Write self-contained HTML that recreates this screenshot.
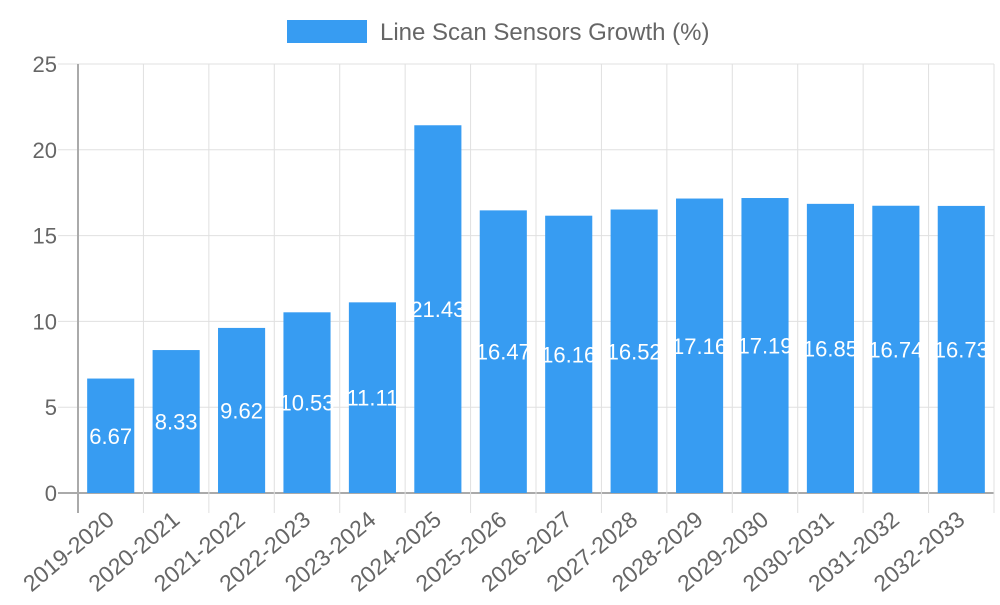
<!DOCTYPE html>
<html><head><meta charset="utf-8"><style>
body{margin:0;background:#fff;}
svg text{font-family:"Liberation Sans",sans-serif;}
</style></head><body>
<svg id="c" width="1000" height="600" xmlns="http://www.w3.org/2000/svg">
<g>
<rect x="287" y="20" width="80" height="23" fill="#379cf2"/>
<text x="380" y="40" font-size="24" fill="#666">Line Scan Sensors Growth (%)</text>
</g>
<g id="grid"></g><g id="bars"></g><g id="labels"></g>
</svg>
<script>
const categories=["2019-2020","2020-2021","2021-2022","2022-2023","2023-2024","2024-2025","2025-2026","2026-2027","2027-2028","2028-2029","2029-2030","2030-2031","2031-2032","2032-2033"];
const values=[6.67,8.33,9.62,10.53,11.11,21.43,16.47,16.16,16.52,17.16,17.19,16.85,16.74,16.73];
const yTicks=[0,5,10,15,20,25];
const NS="http://www.w3.org/2000/svg";
const L=78,R=994,T=64,B=493,yMax=25;
const bw=(R-L)/categories.length;
const y=v=>B-(v/yMax)*(B-T);
const x=i=>L+bw*i+bw/2;
function mk(tag,attrs,parent){const e=document.createElementNS(NS,tag);for(const k in attrs)e.setAttribute(k,attrs[k]);document.getElementById(parent).appendChild(e);return e;}
yTicks.forEach(t=>{
 const l=mk('line',{x1:58,x2:R,y1:y(t),y2:y(t),stroke:t===0?'#aaa':'#e0e0e0','stroke-width':t===0?2:1},'grid');
 
 
 const tx=mk('text',{x:57,y:y(t)+8,'text-anchor':'end','font-size':22,fill:'#666'},'grid');
 tx.textContent=t;
 
 
});
for(let i=0;i<=categories.length;i++){
 const gx=L+bw*i;
 const l=mk('line',{x1:gx,x2:gx,y1:T,y2:513,stroke:i===0?'#aaa':'#e0e0e0','stroke-width':i===0?2:1},'grid');
 
 
}
const w=bw*0.72;
values.forEach((v,i)=>{
 const r=mk('rect',{x:x(i)-w/2,y:y(v),width:w,height:B-y(v),fill:'#379cf2'},'bars');
 
 
 const t=mk('text',{x:x(i),y:(y(v)+B)/2+8,'text-anchor':'middle','font-size':22,fill:'#fff'},'labels');
 t.textContent=v;
 
 
 const c=mk('text',{x:x(i)+5,y:522,'text-anchor':'end','font-size':23,fill:'#666',transform:`rotate(-40 ${x(i)+5} 522)`},'labels');
 c.textContent=categories[i];
 
 
});
</script>
</body></html>
